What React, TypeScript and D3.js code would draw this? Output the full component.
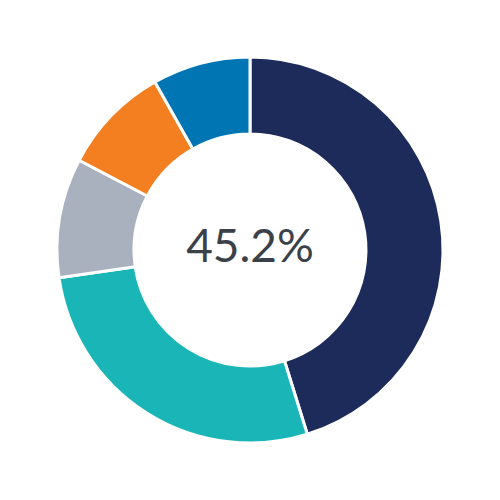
import React, { useEffect, useRef } from 'react'
import * as d3 from 'd3'

// slices clockwise from 12 o'clock
const categories = ['A', 'B', 'C', 'D', 'E']
const values = [45.2, 27.5, 10.0, 9.1, 8.2]
const colors = ['#1c2b5a', '#1ab5b7', '#a9b1be', '#f47f20', '#0075b4']
const centerLabel = '45.2%'

const App = () => {
  const ref = useRef<SVGSVGElement>(null)

  useEffect(() => {
    const svg = d3.select(ref.current)
    svg.selectAll('*').remove()

    const width = 500
    const height = 500
    const outer = 193
    const inner = 116

    const color = d3.scaleOrdinal<string, string>().domain(categories).range(colors)

    const pie = d3.pie<number>().sort(null).value(d => d)
    const arc = d3.arc<d3.PieArcDatum<number>>().innerRadius(inner).outerRadius(outer)

    const g = svg.append('g').attr('transform', `translate(${width / 2},${height / 2})`)

    g.selectAll('path')
      .data(pie(values))
      .enter()
      .append('path')
      .attr('d', arc)
      .attr('fill', (d, i) => color(categories[i]))
      .attr('stroke', '#fff')
      .attr('stroke-width', 3)
      .attr('stroke-linejoin', 'round')

    g.append('text')
      .attr('text-anchor', 'middle')
      .attr('dy', '0.35em')
      .attr('y', -4)
      .style('font-family', 'Lato, sans-serif')
      .style('font-size', '46px')
      .style('fill', '#3b4149')
      .text(centerLabel)
  }, [])

  return (
    <svg
      ref={ref}
      width={500}
      height={500}
      style={{ position: 'absolute', left: 0, top: 0, background: '#fff' }}
    />
  )
}

export default App
